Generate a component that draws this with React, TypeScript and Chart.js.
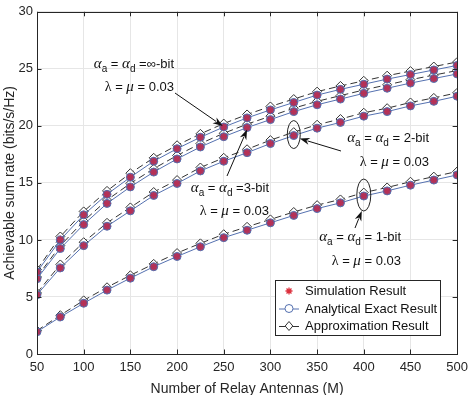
import React, { useEffect, useRef } from "react";
import { Chart, registerables } from "chart.js";

Chart.register(...registerables);

// ---------- data ----------
const relayAntennas = [50, 75, 100, 125, 150, 175, 200, 225, 250, 275, 300, 325, 350, 375, 400, 425, 450, 475, 500];

const exactInf = [7.2, 10.0, 12.2, 14.0, 15.5, 16.9, 18.0, 19.0, 19.9, 20.7, 21.4, 22.05, 22.7, 23.2, 23.65, 24.1, 24.5, 24.9, 25.3];
const approxInf = [7.4, 10.3, 12.5, 14.3, 15.85, 17.2, 18.3, 19.3, 20.2, 21.0, 21.7, 22.35, 23.0, 23.5, 23.95, 24.4, 24.8, 25.2, 25.6];
const simInf = [7.2, 10.05, 12.2, 14.0, 15.5, 16.9, 18.0, 19.0, 19.9, 20.7, 21.4, 22.05, 22.7, 23.2, 23.65, 24.1, 24.5, 24.9, 25.3];

const exact3 = [6.6, 9.25, 11.35, 13.2, 14.65, 15.95, 17.1, 18.15, 19.05, 19.85, 20.55, 21.25, 21.85, 22.35, 22.85, 23.3, 23.75, 24.15, 24.55];
const approx3 = [6.75, 9.5, 11.65, 13.5, 14.95, 16.25, 17.4, 18.45, 19.35, 20.15, 20.85, 21.55, 22.15, 22.65, 23.15, 23.6, 24.05, 24.45, 24.85];
const sim3 = [6.6, 9.25, 11.35, 13.2, 14.65, 15.95, 17.1, 18.15, 19.05, 19.85, 20.55, 21.25, 21.85, 22.35, 22.85, 23.3, 23.75, 24.15, 24.55];

const exact2 = [5.2, 7.55, 9.5, 11.2, 12.55, 13.9, 14.95, 16.05, 16.9, 17.65, 18.45, 19.15, 19.8, 20.3, 20.85, 21.25, 21.75, 22.15, 22.6];
const approx2 = [5.35, 7.85, 9.8, 11.5, 12.85, 14.2, 15.25, 16.35, 17.2, 17.95, 18.75, 19.45, 20.1, 20.6, 21.15, 21.55, 22.05, 22.45, 22.9];
const sim2 = [5.2, 7.55, 9.5, 11.2, 12.55, 13.9, 14.95, 16.05, 16.9, 17.65, 18.45, 19.15, 19.8, 20.3, 20.85, 21.25, 21.75, 22.15, 22.6];

const exact1 = [1.95, 3.25, 4.45, 5.6, 6.65, 7.65, 8.55, 9.4, 10.2, 10.85, 11.5, 12.15, 12.75, 13.25, 13.85, 14.3, 14.8, 15.25, 15.7];
const approx1 = [2.05, 3.4, 4.7, 5.85, 6.9, 7.9, 8.85, 9.7, 10.5, 11.15, 11.8, 12.45, 13.05, 13.55, 14.15, 14.6, 15.1, 15.55, 16.0];
const sim1 = [1.95, 3.25, 4.45, 5.6, 6.65, 7.65, 8.55, 9.4, 10.2, 10.85, 11.5, 12.15, 12.75, 13.25, 13.85, 14.3, 14.8, 15.25, 15.7];

const xTicks = [50, 100, 150, 200, 250, 300, 350, 400, 450, 500];
const yTicks = [0, 5, 10, 15, 20, 25, 30];

const xTitle = "Number of Relay Antennas (M)";
const yTitle = "Achievable sum rate (bits/s/Hz)";
const legendLabels = ["Simulation Result", "Analytical Exact Result", "Approximation Result"];

const bitLabels = ["=\u221E-bit", "=3-bit", "= 2-bit", "= 1-bit"];
const paramLabel = "0.03";

// ---------- styling ----------
const SANS = "'Liberation Sans', Arial, Helvetica, sans-serif";
const SERIF = "'Liberation Serif', 'Times New Roman', serif";
const TEXT = "#262626";
const BLUE = "#5571b0";
const DARK = "#333333";
const RED = "#dc2f3c";
const RED_PLOT = "#b83055";

const pts = (ys: number[]) => relayAntennas.map((x, i) => ({ x, y: ys[i] }));

function drawArrow(ctx: CanvasRenderingContext2D, x1: number, y1: number, x2: number, y2: number) {
  const a = Math.atan2(y2 - y1, x2 - x1);
  const len = 10;
  const hw = 3.5;
  ctx.save();
  ctx.strokeStyle = "#111";
  ctx.fillStyle = "#111";
  ctx.lineWidth = 1;
  ctx.beginPath();
  ctx.moveTo(x1, y1);
  ctx.lineTo(x2 - Math.cos(a) * len * 0.8, y2 - Math.sin(a) * len * 0.8);
  ctx.stroke();
  ctx.beginPath();
  ctx.moveTo(x2, y2);
  ctx.lineTo(x2 - Math.cos(a) * len - Math.sin(a) * hw, y2 - Math.sin(a) * len + Math.cos(a) * hw);
  ctx.lineTo(x2 - Math.cos(a) * len * 0.7, y2 - Math.sin(a) * len * 0.7);
  ctx.lineTo(x2 - Math.cos(a) * len + Math.sin(a) * hw, y2 - Math.sin(a) * len - Math.cos(a) * hw);
  ctx.closePath();
  ctx.fill();
  ctx.restore();
}

type Part = { t: string; f: string; dy?: number };

function drawRich(ctx: CanvasRenderingContext2D, right: number, baseline: number, parts: Part[]) {
  ctx.save();
  ctx.fillStyle = "#111";
  ctx.textBaseline = "alphabetic";
  ctx.textAlign = "left";
  let total = 0;
  for (const p of parts) {
    ctx.font = p.f;
    total += ctx.measureText(p.t).width;
  }
  let x = right - total;
  for (const p of parts) {
    ctx.font = p.f;
    ctx.fillText(p.t, x, baseline + (p.dy || 0));
    x += ctx.measureText(p.t).width;
  }
  ctx.restore();
}

const greekF = `italic 15px ${SERIF}`;
const lambdaF = `14px ${SERIF}`;
const textF = `13px ${SANS}`;
const subF = `10px ${SANS}`;

function alphaLine(bit: string): Part[] {
  return [
    { t: "\u03B1", f: greekF },
    { t: "a", f: subF, dy: 4 },
    { t: " = ", f: textF },
    { t: "\u03B1", f: greekF },
    { t: "d", f: subF, dy: 4 },
    { t: " " + bit, f: textF },
  ];
}
function paramLine(): Part[] {
  return [
    { t: "\u03BB", f: lambdaF },
    { t: " = ", f: textF },
    { t: "\u03BC", f: greekF },
    { t: " = " + paramLabel, f: textF },
  ];
}

function drawMarker(ctx: CanvasRenderingContext2D, kind: string, x: number, y: number) {
  ctx.save();
  if (kind === "star") {
    ctx.strokeStyle = RED;
    ctx.lineWidth = 1.3;
    const r = 3.5;
    ctx.beginPath();
    for (let k = 0; k < 4; k++) {
      const a = (k * Math.PI) / 4;
      ctx.moveTo(x - Math.cos(a) * r, y - Math.sin(a) * r);
      ctx.lineTo(x + Math.cos(a) * r, y + Math.sin(a) * r);
    }
    ctx.stroke();
  } else if (kind === "circle") {
    ctx.strokeStyle = BLUE;
    ctx.fillStyle = "#fff";
    ctx.lineWidth = 1;
    ctx.beginPath();
    ctx.arc(x, y, 4, 0, Math.PI * 2);
    ctx.fill();
    ctx.stroke();
  } else {
    ctx.strokeStyle = DARK;
    ctx.fillStyle = "#fff";
    ctx.lineWidth = 1;
    ctx.beginPath();
    ctx.moveTo(x, y - 4.5);
    ctx.lineTo(x + 3.8, y);
    ctx.lineTo(x, y + 4.5);
    ctx.lineTo(x - 3.8, y);
    ctx.closePath();
    ctx.fill();
    ctx.stroke();
  }
  ctx.restore();
}

const decorPlugin = {
  id: "decor",
  afterDraw(chart: any) {
    const ctx: CanvasRenderingContext2D = chart.ctx;
    const { left, right, top, bottom } = chart.chartArea;
    const xs = chart.scales.x;
    const ys = chart.scales.y;

    // frame + inner ticks
    ctx.save();
    ctx.strokeStyle = TEXT;
    ctx.lineWidth = 1;
    ctx.strokeRect(Math.round(left) + 0.5, Math.round(top) + 0.5, Math.round(right - left), Math.round(bottom - top));
    ctx.beginPath();
    for (const t of xTicks) {
      const px = Math.round(xs.getPixelForValue(t)) + 0.5;
      ctx.moveTo(px, bottom);
      ctx.lineTo(px, bottom - 4.5);
      ctx.moveTo(px, top);
      ctx.lineTo(px, top + 4.5);
    }
    for (const t of yTicks) {
      const py = Math.round(ys.getPixelForValue(t)) + 0.5;
      ctx.moveTo(left, py);
      ctx.lineTo(left + 4.5, py);
      ctx.moveTo(right, py);
      ctx.lineTo(right - 4.5, py);
    }
    ctx.stroke();
    ctx.restore();

    // axis titles
    ctx.save();
    ctx.fillStyle = TEXT;
    ctx.font = `14px ${SANS}`;
    ctx.textAlign = "center";
    ctx.textBaseline = "alphabetic";
    ctx.fillText(xTitle, (left + right) / 2, 393);
    ctx.translate(14, (top + bottom) / 2);
    ctx.rotate(-Math.PI / 2);
    ctx.fillText(yTitle, 0, 0);
    ctx.restore();

    // annotations
    const P = (m: number, v: number) => [xs.getPixelForValue(m), ys.getPixelForValue(v)];
    drawRich(ctx, 174, 68, alphaLine(bitLabels[0]));
    drawRich(ctx, 174, 91, paramLine());
    drawRich(ctx, 269, 192, alphaLine(bitLabels[1]));
    drawRich(ctx, 269, 215, paramLine());
    drawRich(ctx, 429, 142, alphaLine(bitLabels[2]));
    drawRich(ctx, 429, 166, paramLine());
    drawRich(ctx, 401, 241, alphaLine(bitLabels[3]));
    drawRich(ctx, 401, 265, paramLine());

    const pInf = P(250, exactInf[8]);
    drawArrow(ctx, 175, 93, pInf[0] - 1, pInf[1] - 1);
    const p3 = P(275, exact3[9]);
    drawArrow(ctx, 227, 176, p3[0], p3[1] + 2);
    const p2 = P(325, exact2[11]);
    drawArrow(ctx, 341, 151, p2[0] + 6, p2[1] + 3);
    const p1 = P(400, exact1[14]);
    drawArrow(ctx, 355, 228, p1[0] - 2, p1[1] + 15);

    ctx.save();
    ctx.strokeStyle = "#222";
    ctx.lineWidth = 1;
    ctx.beginPath();
    ctx.ellipse(p2[0], p2[1] - 1, 6.5, 14, 0, 0, Math.PI * 2);
    ctx.stroke();
    ctx.beginPath();
    ctx.ellipse(p1[0], p1[1] - 1, 7, 16, 0, 0, Math.PI * 2);
    ctx.stroke();
    ctx.restore();

    // legend box
    const bx = 275.5, by = 280.5, bw = 165, bh = 55;
    ctx.save();
    ctx.fillStyle = "#fff";
    ctx.fillRect(bx, by, bw, bh);
    ctx.strokeStyle = TEXT;
    ctx.lineWidth = 1;
    ctx.strokeRect(bx, by, bw, bh);
    const rows = [291, 308.5, 326];
    const kinds = ["star", "circle", "diamond"];
    for (let i = 0; i < 3; i++) {
      const ry = rows[i];
      if (i > 0) {
        ctx.strokeStyle = i === 1 ? BLUE : DARK;
        ctx.lineWidth = 1;
        ctx.beginPath();
        ctx.moveTo(279, ry + 0.5);
        ctx.lineTo(299, ry + 0.5);
        ctx.stroke();
      }
      drawMarker(ctx, kinds[i], 289, ry);
      ctx.fillStyle = "#111";
      ctx.font = `13px ${SANS}`;
      ctx.textAlign = "left";
      ctx.textBaseline = "middle";
      ctx.fillText(legendLabels[i], 305, ry + 0.5);
    }
    ctx.restore();
  },
};

export default function App() {
  const ref = useRef<HTMLCanvasElement | null>(null);

  useEffect(() => {
    if (!ref.current) return;
    const approxDs = (d: number[]) => ({
      data: pts(d),
      borderColor: DARK,
      backgroundColor: "#ffffff",
      borderWidth: 1,
      borderDash: [7, 4],
      pointStyle: "rectRot",
      pointRadius: 4.5,
      pointBorderWidth: 1,
      pointBorderColor: DARK,
      pointBackgroundColor: "#ffffff",
      order: 3,
    });
    const exactDs = (d: number[]) => ({
      data: pts(d),
      borderColor: BLUE,
      borderWidth: 1,
      pointStyle: "circle",
      pointRadius: 4,
      pointBorderWidth: 1,
      pointBorderColor: BLUE,
      pointBackgroundColor: "rgba(135,60,112,0.92)",
      order: 2,
    });
    const simDs = (d: number[]) => ({
      data: pts(d),
      showLine: false,
      borderColor: RED_PLOT,
      pointStyle: "star",
      pointRadius: 3.5,
      pointBorderWidth: 1.2,
      pointBorderColor: RED_PLOT,
      order: 1,
    });

    const chart = new Chart(ref.current, {
      type: "line",
      data: {
        datasets: [
          approxDs(approxInf), approxDs(approx3), approxDs(approx2), approxDs(approx1),
          exactDs(exactInf), exactDs(exact3), exactDs(exact2), exactDs(exact1),
          simDs(simInf), simDs(sim3), simDs(sim2), simDs(sim1),
        ] as any,
      },
      options: {
        animation: false,
        responsive: true,
        maintainAspectRatio: false,
        layout: { padding: { top: 7, right: 10, left: 0, bottom: 0 } },
        plugins: { legend: { display: false }, tooltip: { enabled: false } },
        elements: { line: { tension: 0 } },
        scales: {
          x: {
            type: "linear",
            min: 50,
            max: 500,
            afterBuildTicks: (s: any) => { s.ticks = xTicks.map((v) => ({ value: v })); },
            afterFit: (s: any) => { s.height = 41; },
            grid: { color: "#e6e6e6", drawTicks: false, lineWidth: 1 },
            border: { display: false },
            ticks: { color: TEXT, font: { family: SANS, size: 13 }, padding: 6, maxRotation: 0, autoSkip: false },
          },
          y: {
            type: "linear",
            min: 0,
            max: 30,
            afterBuildTicks: (s: any) => { s.ticks = yTicks.map((v) => ({ value: v })); },
            afterFit: (s: any) => { s.width = 37; },
            grid: { color: "#e6e6e6", drawTicks: false, lineWidth: 1 },
            border: { display: false },
            ticks: { color: TEXT, font: { family: SANS, size: 13 }, padding: 4 },
          },
        },
      } as any,
      plugins: [decorPlugin],
    });
    return () => chart.destroy();
  }, []);

  return (
    <div style={{ position: "fixed", left: 0, top: 0, width: 474, height: 395, background: "#fff" }}>
      <canvas ref={ref} />
    </div>
  );
}
